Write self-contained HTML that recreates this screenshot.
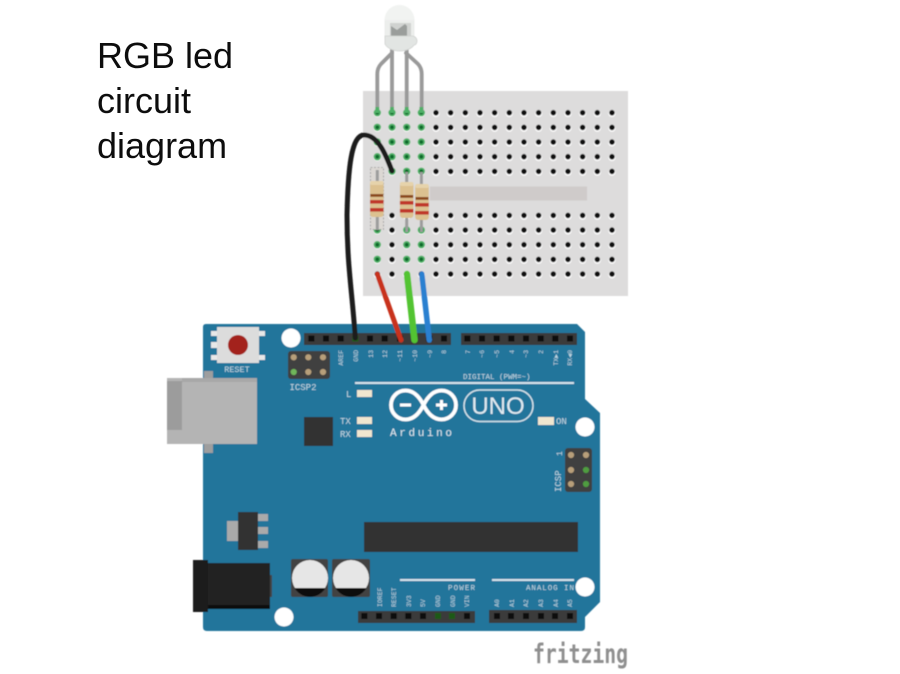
<!DOCTYPE html>
<html><head><meta charset="utf-8"><title>RGB led circuit diagram</title>
<style>html,body{margin:0;padding:0;background:#fff;width:900px;height:674px;overflow:hidden}svg{display:block}
text{font-family:"Liberation Sans",sans-serif}
.l{font-size:6.5px;fill:#b9d3df;text-anchor:end;font-family:"Liberation Mono",monospace}
.m{font-family:"Liberation Mono",monospace;fill:#c3d9e3}</style></head><body>
<svg width="900" height="674" viewBox="0 0 900 674" xmlns="http://www.w3.org/2000/svg">
<defs>
<filter id="b" x="-5%" y="-5%" width="110%" height="110%"><feGaussianBlur stdDeviation="0.5"/></filter>
<filter id="t" x="-5%" y="-5%" width="110%" height="110%"><feGaussianBlur stdDeviation="0.3"/></filter>
<pattern id="h" x="369.97" y="105.4" width="14.667" height="14.667" patternUnits="userSpaceOnUse">
<circle cx="7.33" cy="8" r="3.7" fill="#fff"/><circle cx="7.33" cy="7.33" r="2.8" fill="#0a0a0a"/></pattern>
<g id="g"><circle r="3.7" fill="#4fb167"/><circle r="1.9" fill="#0f6a2c"/></g>
<g id="p"><rect x="-3" y="-3" width="6" height="6" fill="#0b0b0b"/></g>
<g id="pg"><rect x="-3" y="-3" width="6" height="6" fill="#1d5a16"/></g>
<g id="r"><rect x="-6.8" y="-18" width="13.6" height="36" rx="3" fill="#dcc190"/>
<rect x="-6.8" y="-18" width="13.6" height="4" rx="2" fill="#e6d3ab"/>
<rect x="-6.5" y="-5" width="13" height="2.8" fill="#8a4a1e"/>
<rect x="-6.8" y="1" width="13.6" height="3.6" fill="#c0392b"/>
<rect x="-6.8" y="9" width="13.6" height="3.6" fill="#c0392b"/></g>
<g id="i"><circle r="3.1" fill="#b79f7a"/></g>
</defs>
<g filter="url(#t)" fill="#111">
<text x="97" y="68" style="font-size:36px">RGB led</text>
<text x="97" y="113" style="font-size:36px">circuit</text>
<text x="97" y="158" style="font-size:36px">diagram</text>
</g>
<g filter="url(#b)">
<!-- breadboard -->
<rect x="363" y="91" width="265" height="205" fill="#dddcdc"/>
<rect x="430" y="186.5" width="157" height="14" fill="#cfcbca"/>
<rect x="370" y="105.4" width="249.4" height="73.3" fill="url(#h)"/>
<rect x="370" y="208" width="249.4" height="73.3" fill="url(#h)"/>
<use href="#g" x="377.3" y="112.7"/><use href="#g" x="392" y="112.7"/><use href="#g" x="406.7" y="112.7"/><use href="#g" x="421.3" y="112.7"/>
<use href="#g" x="377.3" y="127.3"/><use href="#g" x="392" y="127.3"/><use href="#g" x="406.7" y="127.3"/><use href="#g" x="421.3" y="127.3"/>
<use href="#g" x="377.3" y="142"/><use href="#g" x="392" y="142"/><use href="#g" x="406.7" y="142"/><use href="#g" x="421.3" y="142"/>
<use href="#g" x="377.3" y="156.7"/><use href="#g" x="392" y="156.7"/><use href="#g" x="406.7" y="156.7"/><use href="#g" x="421.3" y="156.7"/>
<use href="#g" x="392" y="171.3"/><use href="#g" x="406.7" y="171.3"/><use href="#g" x="421.3" y="171.3"/>
<use href="#g" x="377.3" y="230"/><use href="#g" x="406.7" y="230"/><use href="#g" x="421.3" y="230"/>
<use href="#g" x="377.3" y="244.7"/><use href="#g" x="406.7" y="244.7"/><use href="#g" x="421.3" y="244.7"/>
<use href="#g" x="377.3" y="259.3"/><use href="#g" x="406.7" y="259.3"/><use href="#g" x="421.3" y="259.3"/>
<!-- LED -->
<g fill="none" stroke="#9a9a9a" stroke-width="3.8" stroke-linejoin="round" stroke-linecap="round">
<path d="M377.300 110V74Q377.300 68 381 64L392 53"/><path d="M392 110V50"/><path d="M406.700 110V50"/><path d="M421.700 110V74Q421.700 68 418 64L406 53"/></g>
<g fill="none" stroke="#4fb167" stroke-width="3.8"><path d="M377.300 107V113"/><path d="M392 107V113"/><path d="M406.700 107V113"/><path d="M421.300 107V113"/></g>
<circle cx="399.500" cy="20" r="15" fill="#f1f3f1"/>
<rect x="384.500" y="20" width="30" height="18" fill="#eceeec"/>
<rect x="390" y="23" width="21" height="15" fill="#d0d2d0"/><path d="M391 26l6 4 8-6 2 2v10h-16Z" fill="#9a9d9b"/>
<path d="M385 36h27a5 5 0 0 1 5 5c0 2-1 4-3 4c-2 3-7 6-14 6s-13-3-15-7Z" fill="#e2e5e3" stroke="#d0d2d0" stroke-width=".8"/>
<!-- resistors -->
<rect x="370.500" y="167.500" width="13" height="62" fill="#dcd8d4" stroke="#9a9a9a" stroke-width=".8" stroke-dasharray="2 1.500"/>
<rect x="375.800" y="170" width="3" height="60" fill="#9c9c9c"/>
<rect x="405.200" y="172" width="3" height="60" fill="#9c9c9c"/>
<rect x="419.900" y="172" width="3" height="60" fill="#9c9c9c"/>
<use href="#r" x="376.800" y="199"/><use href="#r" x="406.700" y="200"/><use href="#r" x="422" y="202"/>
<!-- board -->
<path d="M206 324H577L585 332V399L600 413V602L585 617V627Q585 631 581 631H207Q203 631 203 627V327Q203 324 206 324Z" fill="#24749b"/>
<circle cx="291" cy="338" r="9.500" fill="#fff"/><circle cx="585" cy="427" r="9.500" fill="#fff"/><circle cx="284" cy="617" r="9.500" fill="#fff"/><circle cx="585" cy="587" r="9.500" fill="#fff"/>
<!-- reset -->
<g fill="#e8e8e8"><rect x="211" y="331" width="6" height="5"/><rect x="259" y="331" width="6" height="5"/><rect x="211" y="342" width="6" height="6"/><rect x="211" y="355" width="6" height="5"/><rect x="259" y="355" width="6" height="5"/></g>
<rect x="217" y="327" width="42" height="36" fill="#dcdcdc"/><circle cx="238" cy="345" r="10" fill="#a3221d"/>
<text class="m" x="237" y="372" text-anchor="middle" style="font-size:8.500px">RESET</text>
<!-- USB -->
<rect x="204" y="371" width="9" height="82" fill="#9e9e9e"/>
<rect x="167" y="378" width="90" height="66" fill="#b4b4b4"/><rect x="167" y="381" width="15" height="49" fill="#9c9c9c"/><rect x="182" y="378" width="75" height="4" fill="#a8a8a8"/>
<!-- chip -->
<rect x="304" y="417" width="29" height="29" fill="#323232"/>
<!-- headers -->
<rect x="304" y="333" width="147" height="12" fill="#3a3a3a"/><rect x="461" y="333" width="116" height="12" fill="#3a3a3a"/>
<use href="#p" x="311.300" y="338.500"/><use href="#p" x="326" y="338.500"/><use href="#p" x="340.700" y="338.500"/><use href="#pg" x="355.300" y="338.500"/><use href="#p" x="370" y="338.500"/><use href="#p" x="384.700" y="338.500"/><use href="#p" x="400" y="338.500"/><use href="#pg" x="414.700" y="338.500"/><use href="#p" x="429.300" y="338.500"/><use href="#p" x="444" y="338.500"/>
<use href="#p" x="467.300" y="338.500"/><use href="#p" x="482" y="338.500"/><use href="#p" x="496.700" y="338.500"/><use href="#p" x="511.300" y="338.500"/><use href="#p" x="526" y="338.500"/><use href="#p" x="540.700" y="338.500"/><use href="#p" x="555.300" y="338.500"/><use href="#p" x="570" y="338.500"/>
<rect x="358" y="611" width="117" height="12" fill="#3a3a3a"/><rect x="489" y="610" width="88" height="13" fill="#3a3a3a"/>
<use href="#p" x="364.300" y="616"/><use href="#p" x="379" y="616"/><use href="#p" x="393.700" y="616"/><use href="#p" x="408.300" y="616"/><use href="#p" x="423" y="616"/><use href="#pg" x="438" y="616"/><use href="#pg" x="452" y="616"/><use href="#p" x="467" y="616"/>
<use href="#p" x="497" y="616"/><use href="#p" x="511" y="616"/><use href="#p" x="526" y="616"/><use href="#p" x="541" y="616"/><use href="#p" x="555" y="616"/><use href="#p" x="570" y="616"/>
<!-- ICSP2 -->
<rect x="288" y="351" width="42" height="28" rx="3" fill="#3f3f3f"/>
<use href="#i" x="293.700" y="357.300"/><use href="#i" x="308.300" y="357.300"/><use href="#i" x="323" y="357.300"/>
<circle cx="293.700" cy="372" r="3.100" fill="#6fb65a"/><use href="#i" x="308.300" y="372"/><use href="#i" x="323" y="372"/>
<text class="m" x="303" y="390" text-anchor="middle" style="font-size:9px">ICSP2</text>
<!-- ICSP -->
<rect x="565" y="448" width="27" height="44" rx="3" fill="#3f3f3f"/>
<use href="#i" x="571" y="455"/><use href="#i" x="586" y="455"/><use href="#i" x="571" y="470"/><use href="#i" x="571" y="484"/>
<circle cx="586" cy="470" r="3.100" fill="#4f9d3f"/><circle cx="586" cy="484" r="3.100" fill="#4f9d3f"/>
<text class="m" transform="translate(561,492) rotate(-90)" style="font-size:9px">ICSP</text>
<text class="m" transform="translate(562,456) rotate(-90)" style="font-size:8px">1</text>
<!-- leds -->
<g fill="#f0e6cf"><rect x="357" y="390" width="15" height="7"/><rect x="357" y="417" width="15" height="7"/><rect x="357" y="430" width="15" height="7"/><rect x="538" y="417" width="16" height="8"/></g>
<text class="m" x="346" y="397" style="font-size:9px">L</text><text class="m" x="340" y="424" style="font-size:9px">TX</text><text class="m" x="340" y="437" style="font-size:9px">RX</text><text class="m" x="556" y="424" style="font-size:9px">ON</text>
<!-- silk lines -->
<g fill="#d5e4ec"><rect x="355" y="382" width="219" height="2"/><rect x="400" y="579" width="75" height="2"/><rect x="492" y="579" width="82" height="2"/></g>
<text class="m" x="463" y="379" style="font-size:7.500px">DIGITAL (PWM=~)</text>
<text class="m" x="448" y="590" style="font-size:7.500px" textLength="27">POWER</text>
<text class="m" x="526" y="590" style="font-size:7.500px" textLength="48">ANALOG IN</text>
<!-- pin labels -->
<g>
<text class="l" transform="translate(343,350) rotate(-90)">AREF</text>
<text class="l" transform="translate(358,350) rotate(-90)">GND</text>
<text class="l" transform="translate(373,350) rotate(-90)">13</text>
<text class="l" transform="translate(387,350) rotate(-90)">12</text>
<text class="l" transform="translate(402,350) rotate(-90)">~11</text>
<text class="l" transform="translate(417,350) rotate(-90)">~10</text>
<text class="l" transform="translate(432,350) rotate(-90)">~9</text>
<text class="l" transform="translate(446,350) rotate(-90)">8</text>
<text class="l" transform="translate(470,350) rotate(-90)">7</text>
<text class="l" transform="translate(484,350) rotate(-90)">~6</text>
<text class="l" transform="translate(499,350) rotate(-90)">~5</text>
<text class="l" transform="translate(514,350) rotate(-90)">4</text>
<text class="l" transform="translate(528,350) rotate(-90)">~3</text>
<text class="l" transform="translate(543,350) rotate(-90)">2</text>
<text class="l" transform="translate(558,350) rotate(-90)">TX▶1</text>
<text class="l" transform="translate(572,350) rotate(-90)">RX◀0</text>
<text class="l" transform="translate(382,607) rotate(-90)" style="text-anchor:start">IOREF</text>
<text class="l" transform="translate(396,607) rotate(-90)" style="text-anchor:start">RESET</text>
<text class="l" transform="translate(411,607) rotate(-90)" style="text-anchor:start">3V3</text>
<text class="l" transform="translate(425,607) rotate(-90)" style="text-anchor:start">5V</text>
<text class="l" transform="translate(440,607) rotate(-90)" style="text-anchor:start">GND</text>
<text class="l" transform="translate(455,607) rotate(-90)" style="text-anchor:start">GND</text>
<text class="l" transform="translate(469,607) rotate(-90)" style="text-anchor:start">VIN</text>
<text class="l" transform="translate(499,607) rotate(-90)" style="text-anchor:start">A0</text>
<text class="l" transform="translate(514,607) rotate(-90)" style="text-anchor:start">A1</text>
<text class="l" transform="translate(528,607) rotate(-90)" style="text-anchor:start">A2</text>
<text class="l" transform="translate(543,607) rotate(-90)" style="text-anchor:start">A3</text>
<text class="l" transform="translate(558,607) rotate(-90)" style="text-anchor:start">A4</text>
<text class="l" transform="translate(572,607) rotate(-90)" style="text-anchor:start">A5</text>
</g>
<!-- logo -->
<g fill="none" stroke="#fff" stroke-width="3.800">
<path d="M423.500 405c-4-8-10-14.500-18-14.500a14.500 14.500 0 0 0 0 29c8 0 14-6.500 18-14.500c4-8 10-14.500 18-14.500a14.500 14.500 0 0 1 0 29c-8 0-14-6.500-18-14.500Z"/>
<rect x="464" y="390" width="69" height="31.500" rx="15.700" stroke="#d3e3ea" stroke-width="1.500"/>
</g>
<g fill="#fff"><rect x="400" y="403.500" width="11" height="3"/><rect x="436" y="403.500" width="11" height="3"/><rect x="440" y="400" width="3" height="10"/></g>
<text x="498" y="414" text-anchor="middle" fill="#dfeaf0" style="font-size:24px">UNO</text>
<text class="m" x="390" y="436" textLength="62" style="font-size:11px;fill:#dfeaf0">Arduino</text>
<!-- regulator -->
<g fill="#aaa"><rect x="227" y="521" width="11" height="20"/><rect x="258" y="514" width="10" height="7"/><rect x="258" y="527" width="10" height="7"/><rect x="258" y="541" width="10" height="7"/></g>
<rect x="238" y="512" width="20" height="38" fill="#333"/>
<!-- DIP -->
<rect x="364" y="522" width="214" height="30" fill="#333"/>
<!-- barrel -->
<rect x="268" y="575" width="4" height="22" fill="#444"/>
<rect x="193" y="563" width="77" height="46" fill="#242424"/><rect x="193" y="560" width="15" height="52" fill="#1c1c1c"/><rect x="208" y="605" width="62" height="4" fill="#0c0c0c"/>
<!-- caps -->
<rect x="291" y="559" width="37" height="38" rx="2" fill="#424242"/><circle cx="310" cy="578" r="18" fill="#e6e6e6"/><path d="M294.500 588a18 18 0 0 0 31 0Z" fill="#0a0a0a"/>
<rect x="332" y="559" width="38" height="38" rx="2" fill="#424242"/><circle cx="351" cy="578" r="18" fill="#e6e6e6"/><path d="M335.500 588a18 18 0 0 0 31 0Z" fill="#0a0a0a"/>
<!-- wires -->
<path d="M392 171C386 155 378 135 364 135C351 135 348 170 347 215C347 265 352 290 355.300 338" fill="none" stroke="#1c1c1c" stroke-width="5" stroke-linecap="round"/>
<path d="M377.300 274L401 340" fill="none" stroke="#c8301c" stroke-width="5" stroke-linecap="round"/>
<path d="M407 274L414.500 340" fill="none" stroke="#52c431" stroke-width="6.500" stroke-linecap="round"/>
<path d="M421.800 274L429.300 340" fill="none" stroke="#2b80d0" stroke-width="5.500" stroke-linecap="round"/>
<!-- fritzing -->
<text x="533" y="663" textLength="95" lengthAdjust="spacingAndGlyphs" fill="#8f8f8f" style="font-family:'DejaVu Sans Mono',monospace;font-size:27px;font-weight:bold">fritzing</text>
</g>
</svg>
</body></html>
